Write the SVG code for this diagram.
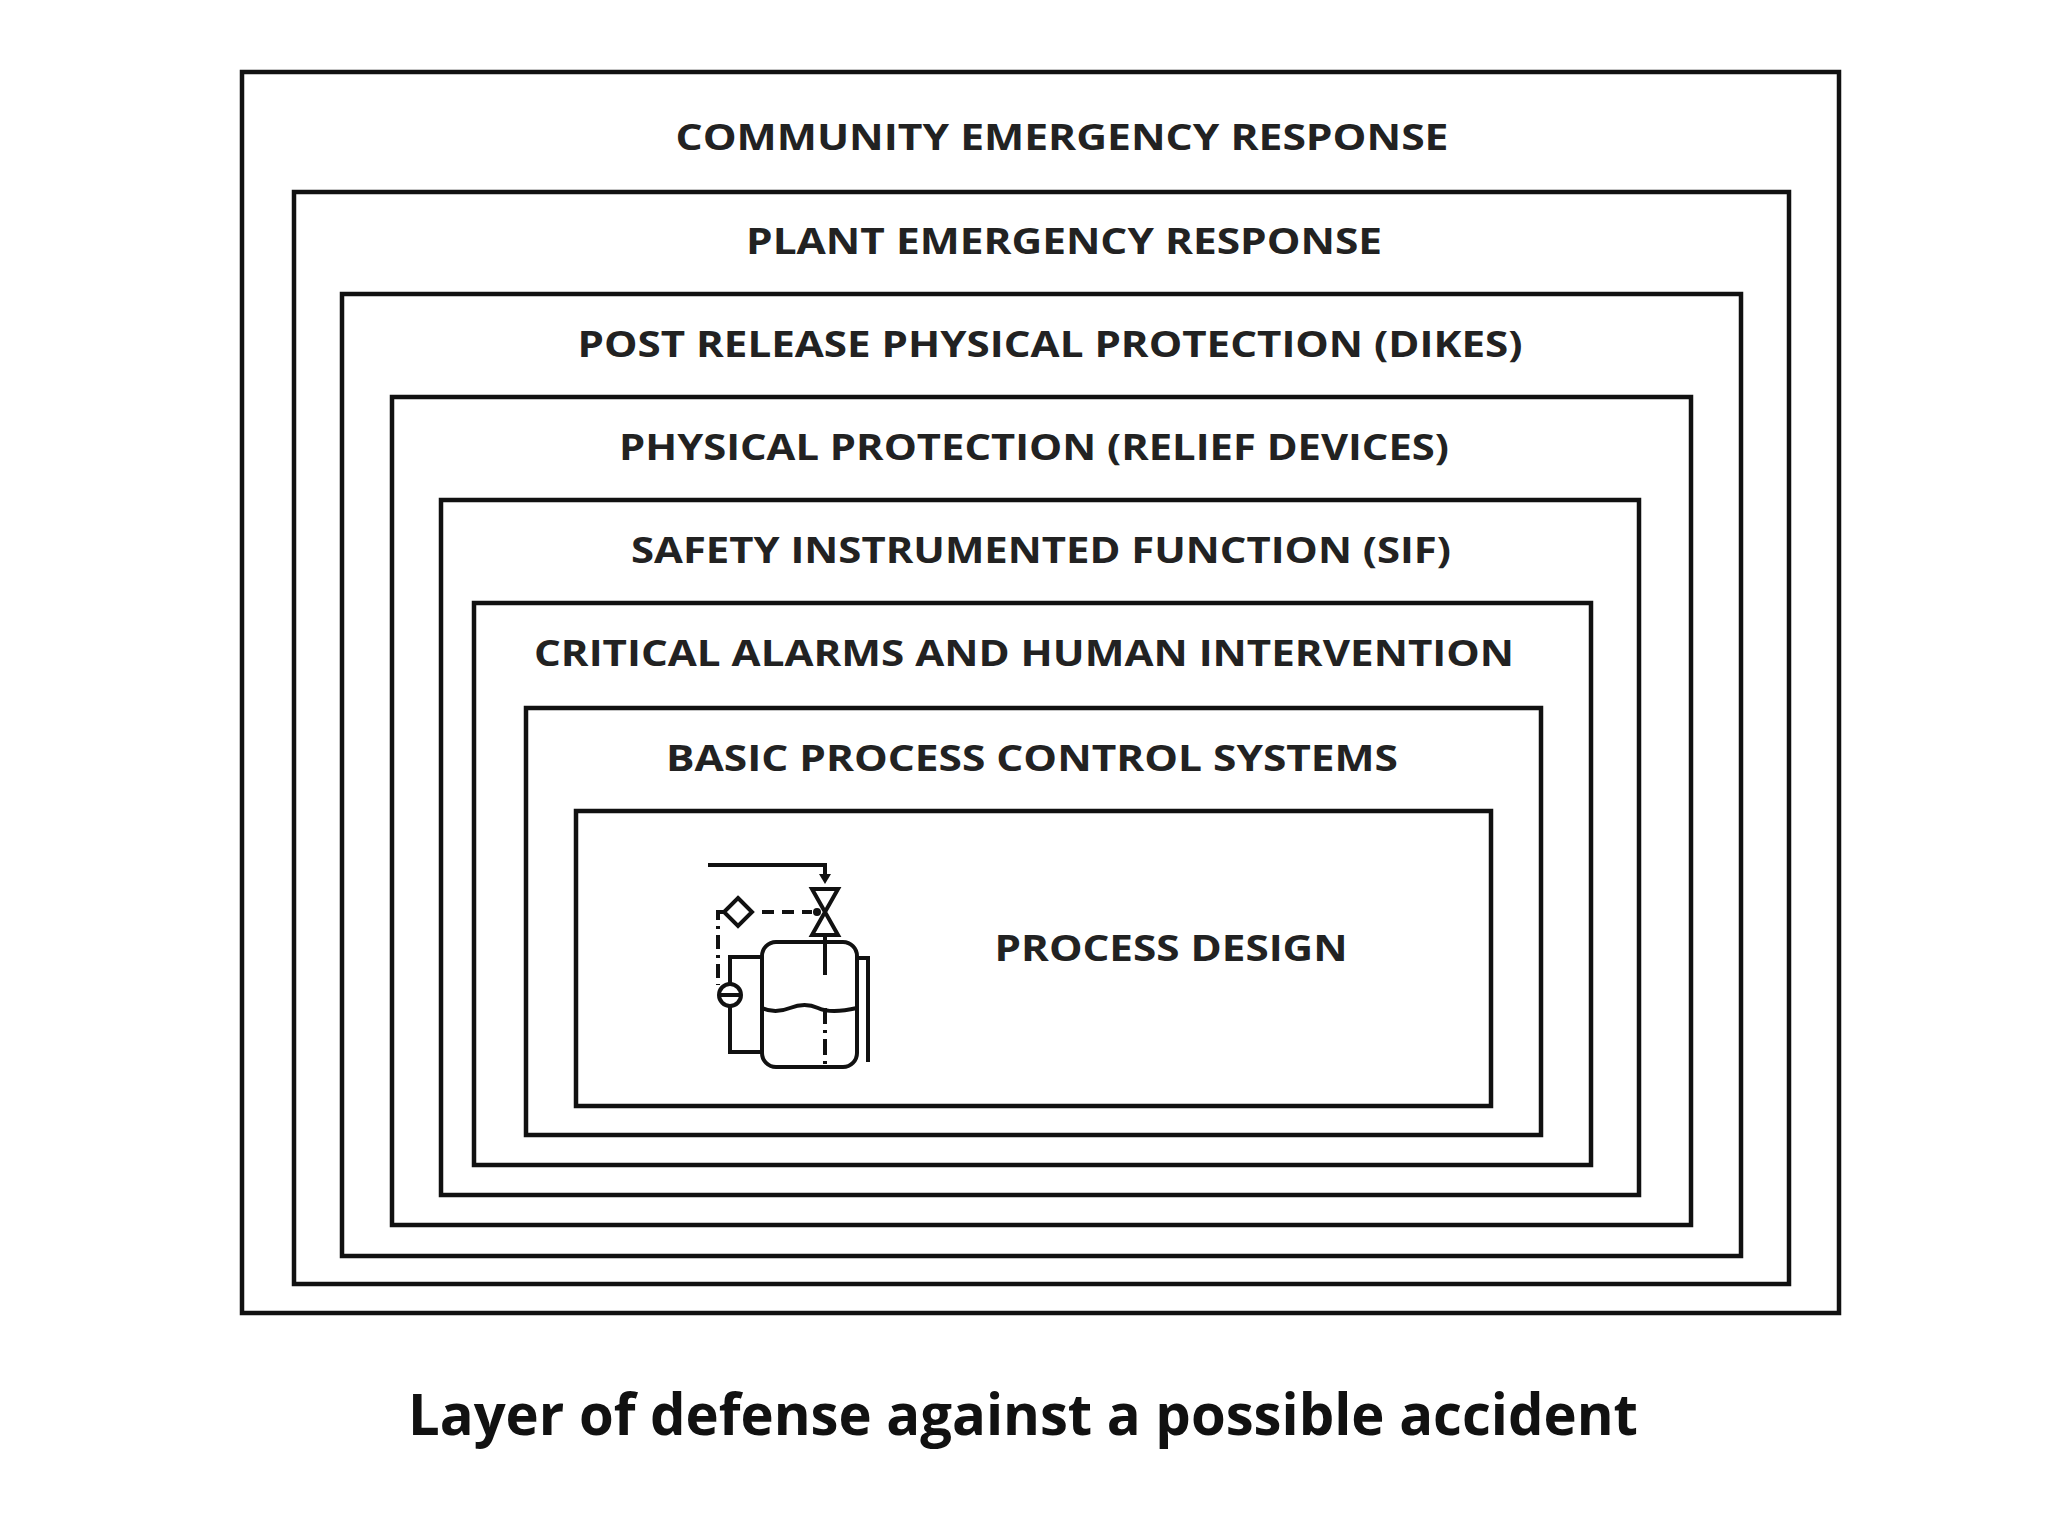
<svg xmlns="http://www.w3.org/2000/svg" width="2048" height="1536" viewBox="0 0 2048 1536">
<style>
.b{fill:none;stroke:#111;stroke-width:4.5}
.t{font-family:"Open Sans","DejaVu Sans",sans-serif;font-weight:bold;font-size:36px;fill:#222;text-anchor:middle}
.i{fill:none;stroke:#111;stroke-width:4}
</style>
<rect width="2048" height="1536" fill="#fff"/>
<g id="l1"><rect class="b" x="242" y="72" width="1597" height="1241"/><text class="t" x="1062" y="150" textLength="773" lengthAdjust="spacingAndGlyphs">COMMUNITY EMERGENCY RESPONSE</text></g>
<g id="l2"><rect class="b" x="294" y="192" width="1495" height="1092"/><text class="t" x="1064" y="254" textLength="636" lengthAdjust="spacingAndGlyphs">PLANT EMERGENCY RESPONSE</text></g>
<g id="l3"><rect class="b" x="342" y="294" width="1399" height="962"/><text class="t" x="1050" y="357" textLength="945" lengthAdjust="spacingAndGlyphs">POST RELEASE PHYSICAL PROTECTION (DIKES)</text></g>
<g id="l4"><rect class="b" x="392" y="397" width="1299" height="828"/><text class="t" x="1034" y="460" textLength="830" lengthAdjust="spacingAndGlyphs">PHYSICAL PROTECTION (RELIEF DEVICES)</text></g>
<g id="l5"><rect class="b" x="441" y="500" width="1198" height="695"/><text class="t" x="1041" y="563" textLength="820" lengthAdjust="spacingAndGlyphs">SAFETY INSTRUMENTED FUNCTION (SIF)</text></g>
<g id="l6"><rect class="b" x="474" y="603" width="1117" height="562"/><text class="t" x="1024" y="666" textLength="980" lengthAdjust="spacingAndGlyphs">CRITICAL ALARMS AND HUMAN INTERVENTION</text></g>
<g id="l7"><rect class="b" x="526" y="708" width="1015" height="427"/><text class="t" x="1032" y="771" textLength="732" lengthAdjust="spacingAndGlyphs">BASIC PROCESS CONTROL SYSTEMS</text></g>
<g id="l8"><rect class="b" x="576" y="811" width="915" height="295"/><text class="t" x="1171" y="961" textLength="353" lengthAdjust="spacingAndGlyphs">PROCESS DESIGN</text>
<g id="icon">
<path class="i" d="M708 865H825V878"/>
<path d="M819 874L825 884L831 874Z" fill="#111"/>
<path class="i" d="M812 889H838L812 935H838Z"/>
<circle cx="817" cy="912" r="4" fill="#111"/>
<path class="i" d="M738 898L752 912L738 926L724 912Z"/>
<path class="i" stroke-dasharray="12 8" d="M762 912H812"/>
<path class="i" stroke-dasharray="14 6 3 6" d="M724 912H718V985"/>
<circle class="i" cx="730" cy="995" r="11"/>
<path class="i" d="M719 995H741"/>
<rect class="i" x="762" y="942" width="95" height="125" rx="14"/>
<path class="i" d="M762 1008Q775 1014 790 1008T818 1008T857 1008"/>
<path class="i" d="M825 935V975"/>
<path class="i" stroke-dasharray="16 6 3 6" d="M825 1008V1067"/>
<path class="i" d="M857 958H868V1062"/>
<path class="i" d="M762 957H730V984M730 1006V1052H762"/>
</g></g>
<text x="1023" y="1435" font-family="'Open Sans','DejaVu Sans',sans-serif" font-weight="bold" font-size="58" fill="#111" text-anchor="middle" textLength="1230" lengthAdjust="spacingAndGlyphs">Layer of defense against a possible accident</text>
</svg>
